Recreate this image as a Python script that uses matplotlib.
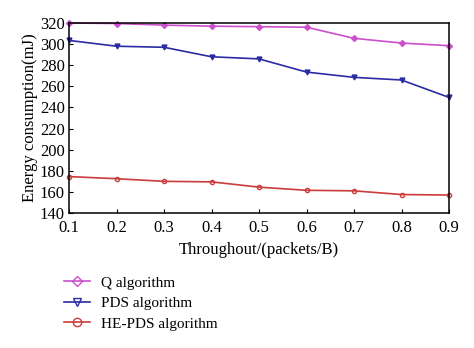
import matplotlib
matplotlib.use('Agg')
import matplotlib.pyplot as plt
from matplotlib.lines import Line2D

plt.rcParams['font.family'] = ['Liberation Serif', 'DejaVu Serif']

throughput = [0.1, 0.2, 0.3, 0.4, 0.5, 0.6, 0.7, 0.8, 0.9]
q_alg = [320, 319.5, 318, 317, 316.5, 316, 305.5, 301, 298.5]
pds_alg = [303.5, 298, 297, 288, 286, 273.5, 268.5, 266, 249.5]
hepds_alg = [174.5, 172.5, 170, 169.5, 164.5, 161.5, 161, 157.5, 157]

c_q = '#cc4fcc'
c_pds = '#2b2ba3'
c_he = '#cc3c3c'

fig = plt.figure(figsize=(4.74, 3.48), dpi=100)
ax = fig.add_axes([69 / 474, 1 - 213 / 348, 380 / 474, 190 / 348])

ax.plot(throughput, q_alg, color=c_q, marker='D', markersize=3, linewidth=1.2, clip_on=False)
ax.plot(throughput, pds_alg, color=c_pds, marker='v', markersize=3.5, linewidth=1.2, clip_on=False)
ax.plot(throughput, hepds_alg, color=c_he, marker='o', markersize=3, linewidth=1.2,
        markerfacecolor='none', clip_on=False)

ax.set_xlim(0.1, 0.9)
ax.set_ylim(140, 320)
ax.set_xticks(throughput)
ax.set_yticks(range(140, 321, 20))
ax.tick_params(direction='in', length=3, labelsize=12, pad=3)
ax.tick_params(axis='x', pad=5)
ax.set_xlabel('Throughout/(packets/B)', fontsize=12, labelpad=4)
ax.set_ylabel('Energy consumption(mJ)', fontsize=12, labelpad=1)
for s in ax.spines.values():
    s.set_linewidth(1.1)

handles = [
    Line2D([], [], color=c_q, marker='D', markersize=5, markerfacecolor='none', linewidth=1.2),
    Line2D([], [], color=c_pds, marker='v', markersize=6, markerfacecolor='none', linewidth=1.2),
    Line2D([], [], color=c_he, marker='o', markersize=6, markerfacecolor='none', linewidth=1.2),
]
fig.legend(handles, ['Q algorithm', 'PDS algorithm', 'HE-PDS algorithm'],
           loc='upper left', bbox_to_anchor=(64 / 474, 1 - 276 / 348),
           frameon=False, fontsize=11, handlelength=1.7, handletextpad=0.75,
           labelspacing=0.45, borderpad=0, borderaxespad=0)

fig.savefig('out.png', dpi=100)
